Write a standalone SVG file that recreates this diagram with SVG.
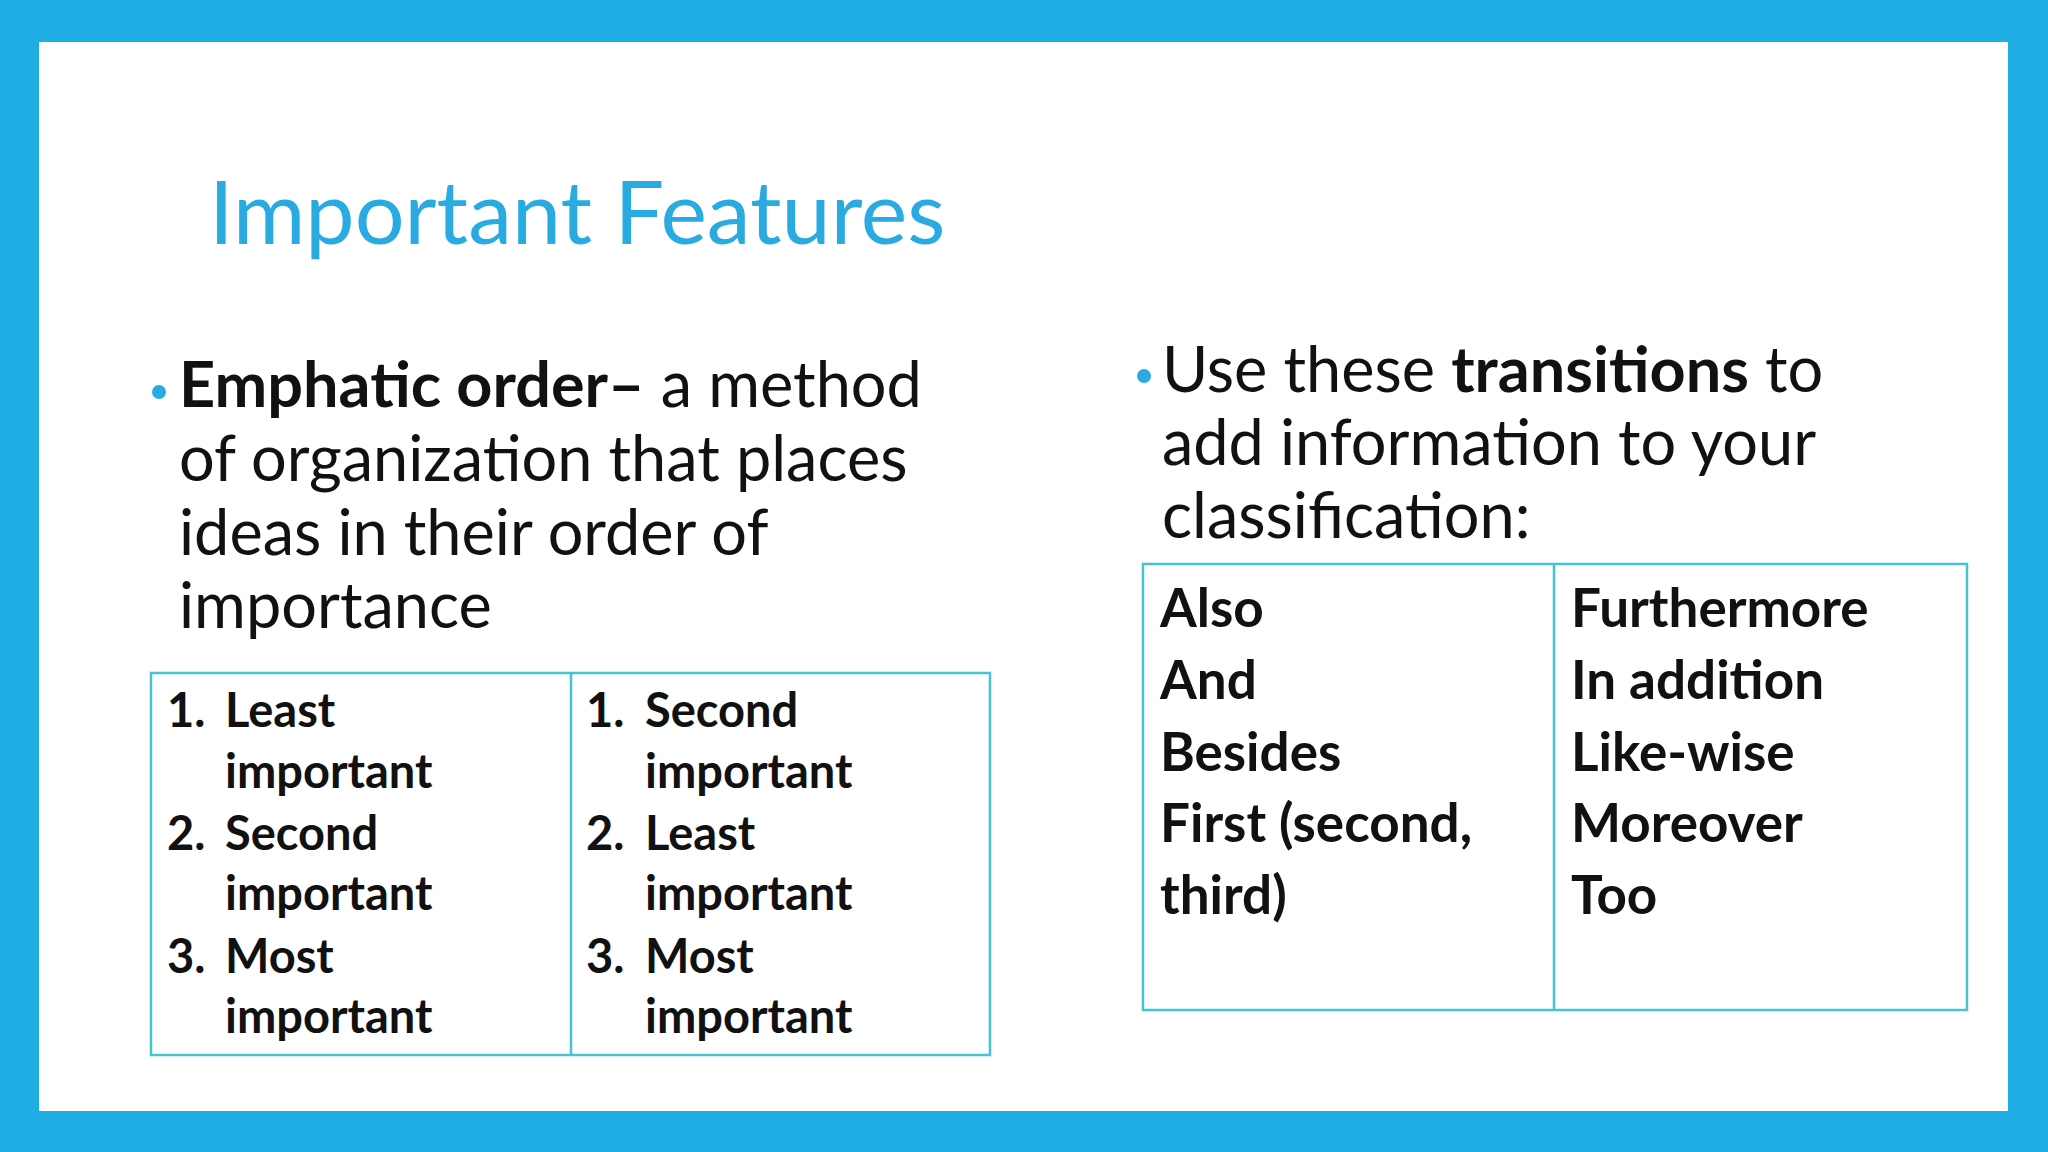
<svg xmlns="http://www.w3.org/2000/svg" width="2048" height="1152" viewBox="0 0 2048 1152">
<style>
.t{font-family:Lato,"Open Sans",sans-serif;fill:#111}
.b{font-family:Lato,"Open Sans",sans-serif;font-weight:bold;fill:#111}
.tab{fill:none;stroke:#45C3CF;stroke-width:2.5}
</style>
<rect width="2048" height="1152" fill="#1FAEE3"/>
<rect x="39" y="42" width="1969" height="1069" fill="#fff"/>
<g id="title"><text x="209" y="244" font-family="Lato,'Open Sans',sans-serif" font-size="88" fill="#29ABE2">Important Features</text></g>
<g id="left-bullet" font-size="63">
<circle cx="159" cy="392" r="7" fill="#29ABE2"/>
<text x="179" y="407" class="t"><tspan class="b">Emphatic order–</tspan> a method</text>
<text x="179" y="481" class="t">of organization that places</text>
<text x="179" y="555" class="t">ideas in their order of</text>
<text x="179" y="628" class="t">importance</text>
</g>
<g id="left-table" font-size="47">
<rect x="151" y="673" width="839" height="382" class="tab"/>
<line x1="571" y1="673" x2="571" y2="1055" class="tab"/>
<text x="167" y="727" class="b">1.</text><text x="225" y="727" class="b">Least</text>
<text x="225" y="788" class="b">important</text>
<text x="167" y="850" class="b">2.</text><text x="225" y="850" class="b">Second</text>
<text x="225" y="910" class="b">important</text>
<text x="167" y="973" class="b">3.</text><text x="225" y="973" class="b">Most</text>
<text x="225" y="1033" class="b">important</text>
<text x="586" y="727" class="b">1.</text><text x="645" y="727" class="b">Second</text>
<text x="645" y="788" class="b">important</text>
<text x="586" y="850" class="b">2.</text><text x="645" y="850" class="b">Least</text>
<text x="645" y="910" class="b">important</text>
<text x="586" y="973" class="b">3.</text><text x="645" y="973" class="b">Most</text>
<text x="645" y="1033" class="b">important</text>
</g>
<g id="right-bullet" font-size="63">
<circle cx="1144" cy="376" r="7" fill="#29ABE2"/>
<text x="1162" y="392" class="t">Use these <tspan class="b">transitions</tspan> to</text>
<text x="1162" y="465" class="t">add information to your</text>
<text x="1162" y="538" class="t">classification:</text>
</g>
<g id="right-table" font-size="53">
<rect x="1143" y="564" width="824" height="446" class="tab"/>
<line x1="1554" y1="564" x2="1554" y2="1010" class="tab"/>
<text x="1160" y="627" class="b">Also</text>
<text x="1160" y="699" class="b">And</text>
<text x="1160" y="771" class="b">Besides</text>
<text x="1160" y="842" class="b">First (second,</text>
<text x="1160" y="914" class="b">third)</text>
<text x="1571" y="627" class="b">Furthermore</text>
<text x="1571" y="699" class="b">In addition</text>
<text x="1571" y="771" class="b">Like-wise</text>
<text x="1571" y="842" class="b">Moreover</text>
<text x="1571" y="914" class="b">Too</text>
</g>
</svg>
